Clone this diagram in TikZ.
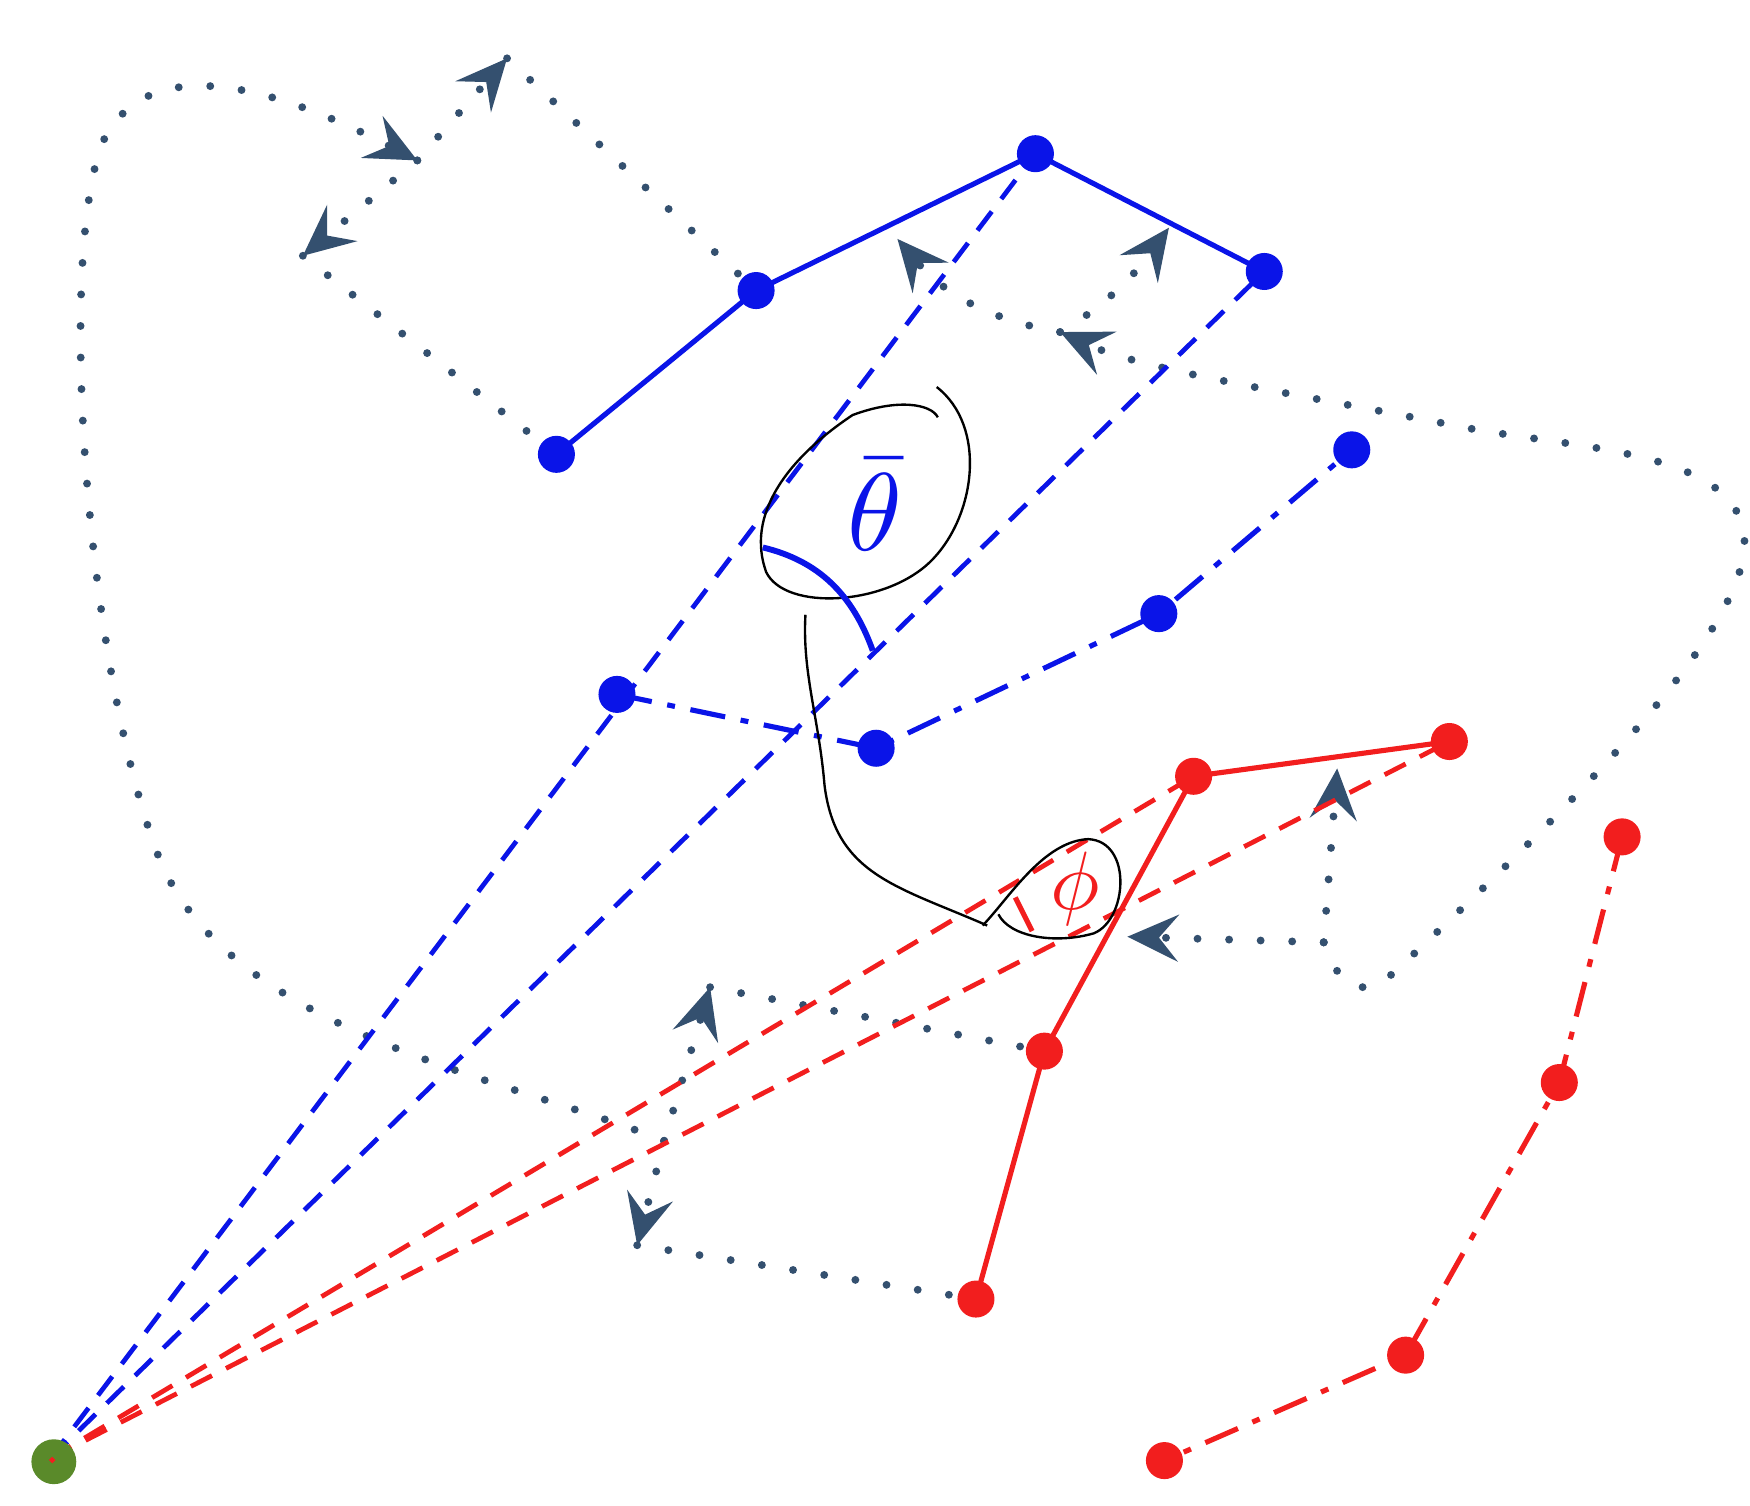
\documentclass[tikz,border=0pt]{standalone}
\usetikzlibrary{arrows.meta}
\definecolor{dotc}{HTML}{34506F}
\definecolor{bl}{HTML}{0A14E8}
\definecolor{rd}{HTML}{F21E1E}
\definecolor{gr}{HTML}{5A8A2A}
\begin{document}
\begin{tikzpicture}[x=0.01cm,y=-0.01cm,
  bdot/.style={circle,fill=bl,inner sep=0pt,minimum size=0.33cm},
  rdot/.style={circle,fill=rd,inner sep=0pt,minimum size=0.33cm},
  dotl/.style={dotc,line width=2pt,dash pattern=on 0pt off 8pt,line cap=round},
  arr/.style={dotl,-{Stealth[length=13pt,width=12pt,inset=5pt,fill=dotc,line width=0.5pt,line cap=butt,sep=0pt]}},
  solidb/.style={bl,line width=1.3pt},
  solidr/.style={rd,line width=1.3pt},
  dashb/.style={bl,line width=1.2pt,dash pattern=on 6pt off 4pt},
  dashr/.style={rd,line width=1.2pt,dash pattern=on 6pt off 4pt},
  ddb/.style={bl,line width=1.3pt,dash pattern=on 9pt off 4pt on 2pt off 4pt},
  ddr/.style={rd,line width=1.3pt,dash pattern=on 9pt off 4pt on 2pt off 4pt}]
\useasboundingbox (0,0) rectangle (1560,1342);
\coordinate (o) at (45,1300);
\coordinate (A) at (496,405); \coordinate (B) at (674,259);
\coordinate (C) at (923,137); \coordinate (D) at (1127,242);
\coordinate (E) at (550,619); \coordinate (F) at (781,667);
\coordinate (G) at (1033,547); \coordinate (H) at (1205,401);
\coordinate (I) at (1064,692); \coordinate (J) at (1292,661);
\coordinate (K) at (931,937); \coordinate (L) at (870,1158);
\coordinate (M) at (1446,746); \coordinate (N) at (1390,965);
\coordinate (O) at (1253,1208); \coordinate (P) at (1038,1302);
\coordinate (m1) at (372,143); \coordinate (c1a) at (270,228); \coordinate (c1b) at (452,52);
\coordinate (m2) at (592,1017); \coordinate (c2a) at (633,880); \coordinate (c2b) at (568,1110);
\coordinate (m3) at (1180,840); \coordinate (c3a) at (1192,685); \coordinate (c3b) at (1005,835);
\coordinate (m4) at (945,296); \coordinate (c4a) at (800,213); \coordinate (c4b) at (1042,203);
\draw[arr] (m1) -- (c1a); \draw[arr] (m1) -- (c1b);
\draw[dotl] (c1a) -- (A); \draw[dotl] (c1b) -- (B);
\draw[arr] (m2) -- (c2a); \draw[arr] (m2) -- (c2b);
\draw[dotl] (c2a) -- (K); \draw[dotl] (c2b) -- (L);
\draw[arr] (m3) -- (c3a); \draw[arr] (m3) -- (c3b);
\draw[arr] (m4) .. controls (880,285) and (840,260) .. (c4a);
\draw[arr] (m4) .. controls (990,270) and (1015,240) .. (c4b);
\draw[arr] (m2) .. controls (450,960) and (200,920) .. (140,760)
  .. controls (80,600) and (50,250) .. (90,130)
  .. controls (130,40) and (250,80) .. (m1);
\draw[arr] (m3) .. controls (1200,900) and (1230,880) .. (1250,860)
  .. controls (1400,720) and (1560,560) .. (1555,480)
  .. controls (1550,400) and (1400,400) .. (1300,380)
  .. controls (1150,350) and (1020,330) .. (m4);
\draw[dashb] (o) -- (C); \draw[dashb] (o) -- (D);
\draw[dashr] (o) -- (I); \draw[dashr] (o) -- (J);
\draw[solidb] (A) -- (B) -- (C) -- (D);
\draw[ddb] (E) -- (F) -- (G) -- (H);
\draw[solidr] (J) -- (I) -- (K) -- (L);
\draw[ddr] (M) -- (N) -- (O) -- (P);
\foreach \p in {A,B,C,D,E,F,G,H} \node[bdot] (n\p) at (\p) {};
\foreach \p in {I,J,K,L,M,N,O,P} \node[rdot] (n\p) at (\p) {};
\draw[black,line width=0.6pt] (835,345) .. controls (880,380) and (870,460) .. (830,500)
  .. controls (790,540) and (700,545) .. (683,510)
  .. controls (665,460) and (700,410) .. (760,370)
  .. controls (800,355) and (830,360) .. (836,372);
\draw[black,line width=0.6pt] (718,548) .. controls (715,600) and (730,640) .. (735,700)
  .. controls (745,780) and (800,790) .. (880,825);
\draw[black,line width=0.6pt] (876,825) .. controls (900,800) and (930,750) .. (970,748)
  .. controls (1010,750) and (1005,820) .. (975,832)
  .. controls (940,842) and (900,835) .. (890,815);
\draw[bl,line width=1.5pt] (680,488) .. controls (730,500) and (760,530) .. (778,580);
\node[bl,scale=2.8] (th) at (780,450) {$\bar\theta$};
\node[rd,scale=2.1] (ph) at (958,792) {$\phi$};
\draw[rd,line width=1.3pt] (905,800) -- (920,830);
\node[circle,fill=gr,minimum size=0.4cm,inner sep=0pt] (g) at (48,1303) {};
\draw[dashr] (g.center) -- (o);
\end{tikzpicture}
\end{document}
